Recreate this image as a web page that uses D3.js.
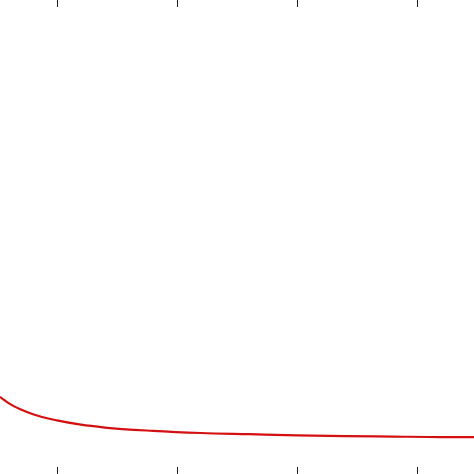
<!DOCTYPE html>
<html><head><meta charset="utf-8">
<script src="https://cdn.jsdelivr.net/npm/d3@7"></script>
<style>body{margin:0;background:#fff}</style></head>
<body><div id="chart"></div>
<script>
// curve samples (x in axis units, y in percent of plot height)
let xs = [0.525, 0.55, 0.6, 0.7, 0.8, 1.0, 1.2, 1.4, 1.8, 2.2, 2.6, 3.0, 3.4, 3.8, 4.2, 4.475];
let ys = [16.3, 15.8, 14.9, 13.6, 12.6, 11.3, 10.4, 9.8, 9.1, 8.65, 8.4, 8.15, 8.0, 7.9, 7.8, 7.8];
let tickVals = [1, 2, 3, 4];

let width = 474, height = 474;
let svg = d3.select("#chart").append("svg").attr("width", width).attr("height", height);

let x = d3.scaleLinear().domain([0.525, 4.475]).range([0, width]);
let y = d3.scaleLinear().domain([0, 100]).range([height, 0]);

svg.append("g")
    .attr("transform", `translate(0,${height})`)
    .call(d3.axisBottom(x).tickValues(tickVals).tickSize(-7).tickFormat(""))
    .call(g => g.select(".domain").remove())
    .call(g => g.selectAll("line").attr("stroke", "#222"));

svg.append("g")
    .call(d3.axisTop(x).tickValues(tickVals).tickSize(-7).tickFormat(""))
    .call(g => g.select(".domain").remove())
    .call(g => g.selectAll("line").attr("stroke", "#222"));

let line = d3.line().x((d, i) => x(xs[i])).y(d => y(d)).curve(d3.curveMonotoneX);
svg.append("path").datum(ys)
    .attr("d", line)
    .attr("fill", "none")
    .attr("stroke", "#d40f0f")
    .attr("stroke-width", 2.2);
</script></body></html>
